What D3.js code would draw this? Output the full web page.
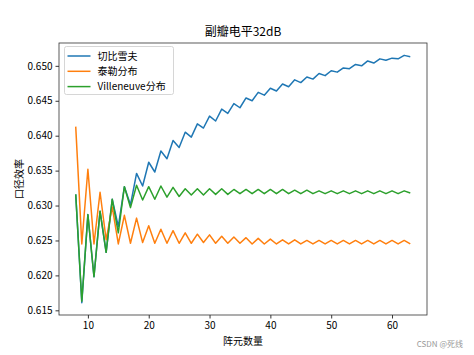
<!DOCTYPE html>
<html>
<head>
<meta charset="utf-8">
<script src="https://cdn.jsdelivr.net/npm/d3@7"></script>
<style>
  body { margin: 0; background: #fff; }
  text { font-family: "Noto Sans CJK SC", "DejaVu Sans", sans-serif; fill: #000; }
</style>
</head>
<body>
<svg id="chart"></svg>
<script>
// element counts on the x axis
const counts = d3.range(8, 64);

// aperture efficiency, one value per count
const chebyshev = [
  0.6316, 0.6161, 0.6287, 0.6198, 0.6292, 0.6233, 0.6309, 0.6270, 0.6327, 0.6301,
  0.6346, 0.6328, 0.6362, 0.6348, 0.6378, 0.6367, 0.6393, 0.6383, 0.6405, 0.6398,
  0.6417, 0.6411, 0.6428, 0.6421, 0.6438, 0.6432, 0.6446, 0.6440, 0.6454, 0.6450,
  0.6462, 0.6458, 0.6468, 0.6464, 0.6474, 0.6470, 0.6480, 0.6476, 0.6484, 0.6481,
  0.6489, 0.6486, 0.6493, 0.6491, 0.6497, 0.6496, 0.6502, 0.6500, 0.6507, 0.6504,
  0.6510, 0.6508, 0.6511, 0.6510, 0.6515, 0.6513
];
const taylor = [
  0.6413, 0.6245, 0.6352, 0.6245, 0.6319, 0.6251, 0.6298, 0.6245, 0.6286, 0.6246,
  0.6282, 0.6247, 0.6271, 0.6246, 0.6266, 0.6246, 0.6264, 0.6246, 0.6261, 0.6246,
  0.6259, 0.6247, 0.6258, 0.6246, 0.6256, 0.6246, 0.6255, 0.6246, 0.6254, 0.6245,
  0.6253, 0.6245, 0.6252, 0.6245, 0.6251, 0.6245, 0.6251, 0.6245, 0.6250, 0.6245,
  0.6250, 0.6245, 0.6250, 0.6245, 0.6250, 0.6245, 0.6250, 0.6245, 0.6250, 0.6245,
  0.6250, 0.6245, 0.6250, 0.6245, 0.6250, 0.6245
];
const villeneuve = [
  0.6316, 0.6163, 0.6287, 0.6198, 0.6292, 0.6233, 0.6309, 0.6261, 0.6327, 0.6297,
  0.6329, 0.6308, 0.6327, 0.6309, 0.6328, 0.6312, 0.6326, 0.6313, 0.6324, 0.6315,
  0.6324, 0.6315, 0.6324, 0.6316, 0.6324, 0.6316, 0.6323, 0.6317, 0.6323, 0.6317,
  0.6323, 0.6317, 0.6323, 0.6317, 0.6323, 0.6317, 0.6322, 0.6317, 0.6322, 0.6317,
  0.6321, 0.6317, 0.6321, 0.6317, 0.6321, 0.6317, 0.6321, 0.6317, 0.6321, 0.6317,
  0.6321, 0.6317, 0.6321, 0.6317, 0.6321, 0.6318
];

const seriesNames = ["切比雪夫", "泰勒分布", "Villeneuve分布"];
const seriesValues = [chebyshev, taylor, villeneuve];
const colors = ["#1f77b4", "#ff7f0e", "#2ca02c"];

const xTicks = [10, 20, 30, 40, 50, 60];
const yTicks = [0.615, 0.620, 0.625, 0.630, 0.635, 0.640, 0.645, 0.650];

const width = 474, height = 355;
const margin = {top: 43, right: 47, bottom: 40, left: 59};
const innerW = width - margin.left - margin.right;
const innerH = height - margin.top - margin.bottom;

const svg = d3.select("#chart")
    .attr("width", width)
    .attr("height", height);

const chart = svg.append("g")
    .attr("transform", `translate(${margin.left},${margin.top})`);

// matplotlib style 5% padding around the data
const xPad = (63 - 8) * 0.05;
const xScale = d3.scaleLinear()
    .domain([8 - xPad, 63 + xPad])
    .range([0, innerW]);

const allVals = seriesValues.flat();
const yMin = d3.min(allVals), yMax = d3.max(allVals);
const yPad = (yMax - yMin) * 0.05;
const yScale = d3.scaleLinear()
    .domain([yMin - yPad, yMax + yPad])
    .range([innerH, 0]);

const xAxis = d3.axisBottom(xScale)
    .tickValues(xTicks)
    .tickSize(3.5)
    .tickPadding(3)
    .tickSizeOuter(0);

const yAxis = d3.axisLeft(yScale)
    .tickValues(yTicks)
    .tickFormat(d3.format(".3f"))
    .tickSize(3.5)
    .tickPadding(3)
    .tickSizeOuter(0);

const xAxisG = chart.append("g")
    .attr("transform", `translate(0,${innerH})`)
    .call(xAxis);
const yAxisG = chart.append("g").call(yAxis);

[xAxisG, yAxisG].forEach(g => {
  g.select(".domain").remove();
  g.selectAll("line").attr("stroke", "#000").attr("stroke-width", 0.8);
  g.selectAll("text").style("font-size", "10px").attr("fill", "#000");
});

// lines
const line = d3.line()
    .x((d, i) => xScale(counts[i]))
    .y(d => yScale(d));

seriesValues.forEach((vals, k) => {
  chart.append("path")
      .datum(vals)
      .attr("fill", "none")
      .attr("stroke", colors[k])
      .attr("stroke-width", 1.5)
      .attr("stroke-linejoin", "round")
      .attr("d", line);
});

// frame
chart.append("rect")
    .attr("width", innerW)
    .attr("height", innerH)
    .attr("fill", "none")
    .attr("stroke", "#333")
    .attr("stroke-width", 0.8);

// legend
const legend = chart.append("g").attr("transform", "translate(5.5,3.5)");
legend.append("rect")
    .attr("width", 109)
    .attr("height", 48)
    .attr("rx", 2)
    .attr("fill", "#fff")
    .attr("fill-opacity", 0.8)
    .attr("stroke", "#ccc")
    .attr("stroke-width", 0.8);

seriesNames.forEach((name, k) => {
  const row = legend.append("g").attr("transform", `translate(0,${9.5 + k * 15.3})`);
  row.append("line")
      .attr("x1", 3).attr("x2", 26)
      .attr("stroke", colors[k])
      .attr("stroke-width", 1.5);
  row.append("text")
      .attr("x", 33)
      .attr("y", 3.6)
      .style("font-size", "10px")
      .text(name);
});

// title and axis labels
svg.append("text")
    .attr("x", margin.left + innerW / 2)
    .attr("y", 36)
    .attr("text-anchor", "middle")
    .style("font-size", "12px")
    .text("副瓣电平32dB");

svg.append("text")
    .attr("x", margin.left + innerW / 2)
    .attr("y", 345)
    .attr("text-anchor", "middle")
    .style("font-size", "10px")
    .text("阵元数量");

svg.append("text")
    .attr("transform", `translate(23,${margin.top + innerH / 2}) rotate(-90)`)
    .attr("text-anchor", "middle")
    .style("font-size", "10px")
    .text("口径效率");

// watermark
svg.append("text")
    .attr("x", 463)
    .attr("y", 347)
    .attr("text-anchor", "end")
    .style("font-size", "8px")
    .style("fill", "#999")
    .text("CSDN @死线");
</script>
</body>
</html>
